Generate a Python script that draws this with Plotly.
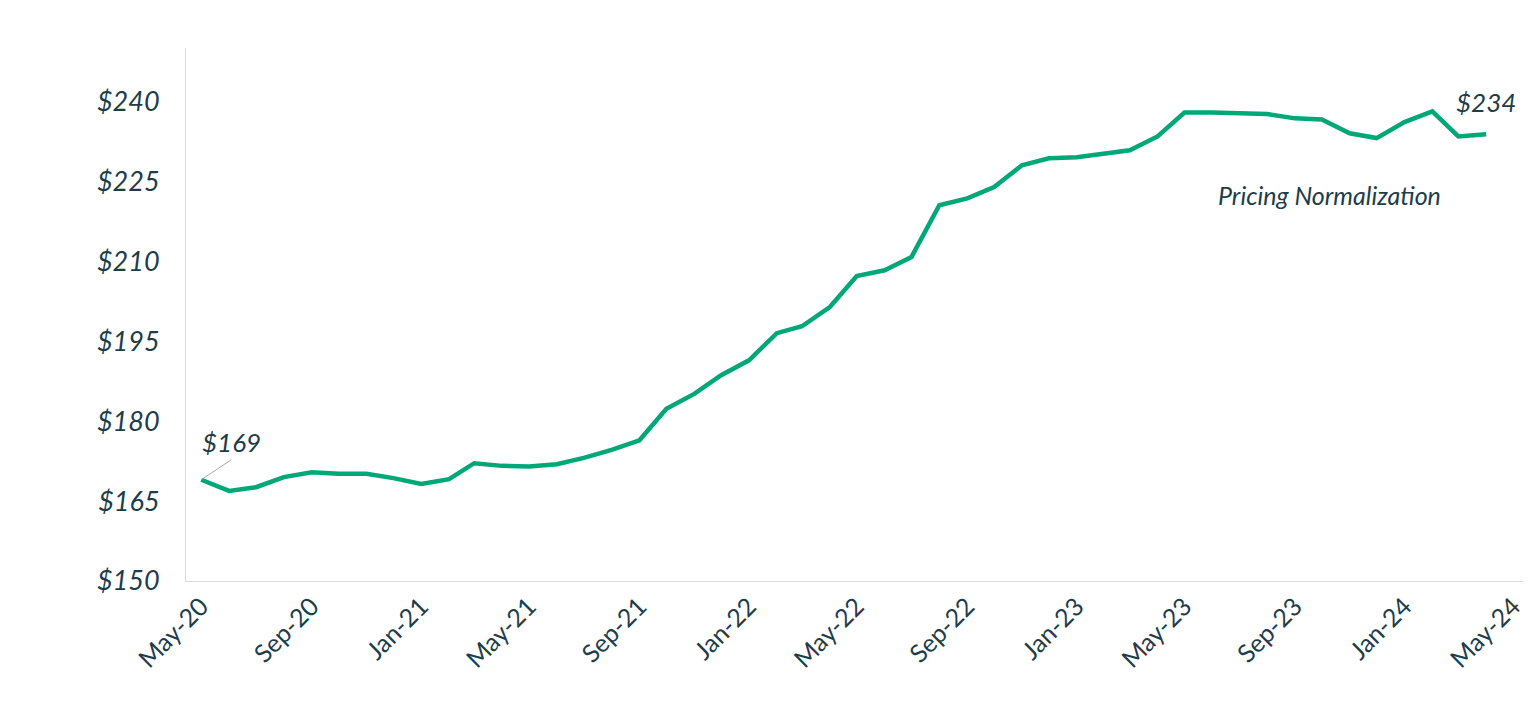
import pandas as pd
import plotly.graph_objects as go

months = pd.date_range("2020-05-01", "2024-04-01", freq="MS")
price = [169.0, 166.9, 167.6, 169.5, 170.4, 170.1, 170.1, 169.3, 168.2, 169.1,
         172.1, 171.6, 171.5, 171.9, 173.1, 174.6, 176.4, 182.3, 185.1, 188.6,
         191.4, 196.5, 197.8, 201.4, 207.2, 208.3, 210.8, 220.5, 221.8, 223.9,
         228.0, 229.3, 229.5, 230.1, 230.8, 233.4, 237.9, 237.9, 237.8, 237.6,
         236.8, 236.6, 234.0, 233.1, 236.1, 238.1, 233.4, 233.8]
y_ticks = [150, 165, 180, 195, 210, 225, 240]

TEXT = "#1d3d4a"
LINE = "#00a878"

fig = go.Figure(go.Scatter(x=months, y=price, mode="lines",
                           line=dict(color=LINE, width=4.5)))

fig.add_annotation(x=months[0], y=price[0], text="$169", showarrow=True,
                   arrowhead=0, arrowwidth=1, arrowcolor="#aaaaaa",
                   ax=30, ay=-20, xanchor="center", yanchor="bottom",
                   font=dict(size=26, color=TEXT, family="Lato", style="italic"))
fig.add_annotation(x=months[-1], y=price[-1], text="$234", showarrow=False,
                   yshift=32, xanchor="center",
                   font=dict(size=26, color=TEXT, family="Lato", style="italic"))
fig.add_annotation(x="2023-10-10", y=222.4, text="Pricing Normalization",
                   showarrow=False, xanchor="center",
                   font=dict(size=25, color=TEXT, family="Lato", style="italic"))

fig.update_layout(
    width=1536, height=716, plot_bgcolor="white", paper_bgcolor="white",
    margin=dict(l=178, r=21, t=40, b=143), showlegend=False,
    font=dict(family="Lato", color=TEXT),
)
fig.update_xaxes(range=["2020-04-14", "2024-05-12"], tickformat="%b-%y",
                 tick0="2020-05-01", dtick="M4", tickangle=-45, automargin=False,
                 showgrid=False, showline=True, linecolor="#d9d9d9",
                 tickfont=dict(size=25, color=TEXT, family="Lato"))
fig.update_yaxes(range=[150, 250], tickvals=y_ticks, automargin=False,
                 ticktext=[f"${v}" for v in y_ticks], showgrid=False,
                 showline=True, linecolor="#d9d9d9", ticks="", ticklabelstandoff=20,
                 tickfont=dict(size=27, color=TEXT, family="Lato", style="italic"))

fig.write_html("out.html")
